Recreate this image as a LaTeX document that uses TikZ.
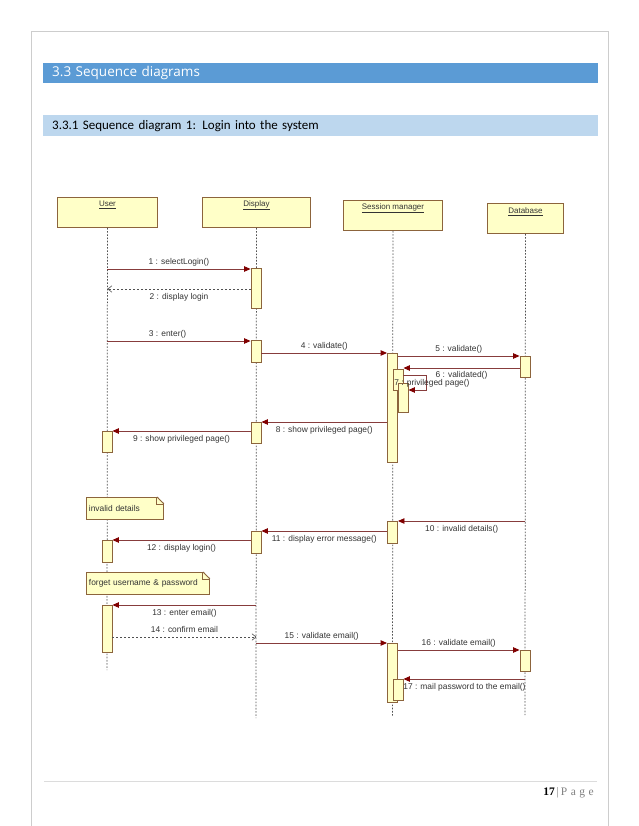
\documentclass[tikz,border=0pt]{standalone}
\usepackage{fontspec}
\setmainfont{Liberation Sans}
\newfontfamily\hdfont{Open Sans}
\newfontfamily\subfont{Carlito}
\newfontfamily\ftfont{Liberation Serif}
\usetikzlibrary{arrows.meta}
\definecolor{boxfill}{RGB}{255,255,200}
\definecolor{boxline}{RGB}{140,100,60}
\definecolor{msgline}{RGB}{135,60,60}
\definecolor{msghead}{RGB}{128,0,0}
\definecolor{lifegray}{RGB}{80,80,80}
\definecolor{hdblue}{RGB}{91,155,213}
\definecolor{subblue}{RGB}{189,215,238}
\definecolor{framegray}{RGB}{205,205,205}
\begin{document}
\begin{tikzpicture}[x=1pt,y=-1pt,
  objbox/.style={draw=boxline, fill=boxfill, line width=0.9pt, inner sep=0pt, anchor=north west},
  objtxt/.style={font=\fontsize{8}{9}\selectfont, text=black!80, inner sep=0pt},
  act/.style={draw=boxline, fill=boxfill, line width=0.9pt, minimum width=10pt, inner sep=0pt},
  lifeline/.style={lifegray, line width=0.75pt, dash pattern=on 1.6pt off 1.6pt},
  msg/.style={msgline, line width=0.9pt, -{Triangle[length=6.5pt,width=5.5pt,color=msghead,fill=msghead]}},
  ret/.style={lifegray, line width=0.7pt, dash pattern=on 2pt off 2pt, -{Straight Barb[length=4pt,width=6.5pt,line width=0.6pt]}},
  lbl/.style={font=\fontsize{8.4}{9.5}\selectfont, text=black!80, inner sep=0pt, text height=6.3pt, text depth=1.9pt},
  la/.style={lbl, midway, anchor=south, yshift=2.2pt},
  lb/.style={lbl, midway, anchor=north, yshift=-3.8pt},
  note/.style={draw=boxline, fill=boxfill, line width=0.9pt, inner ysep=0pt, inner xsep=2.5pt, align=left, anchor=north west, font=\fontsize{8.4}{9.5}\selectfont, text=black!80},
  fold/.style={boxline, line width=0.9pt}
]
\useasboundingbox (0,0) rectangle (638,826);
\fill[white] (0,0) rectangle (638,826);

% page frame
\draw[framegray, line width=1pt] (31,826) -- (31,32) -- (608,32) -- (608,826);

% headings
\node[fill=hdblue, text=white, anchor=north west, minimum height=20pt, text width=537pt, inner xsep=9pt, inner ysep=0pt, align=left, font=\hdfont\fontsize{13.5}{15}\selectfont] (hd) at (43,63) {3.3 Sequence diagrams};
\node[fill=subblue, text=black, anchor=north west, minimum height=21pt, text width=537pt, inner xsep=9pt, inner ysep=0pt, align=left, font=\subfont\fontsize{13}{15}\selectfont] (sub) at (43,115) {3.3.1 Sequence diagram 1: Login into the system};

% footer
\draw[framegray!70, line width=0.7pt] (44,781) -- (597,781);
\node[anchor=base east, inner sep=0pt, font=\ftfont\fontsize{11.5}{13}\selectfont] (pg) at (594,795) {{\bfseries 17}\,{\color{gray}|\,P\hspace{3.5pt}a\hspace{3.5pt}g\hspace{3.5pt}e}};

% objects
\node[objbox, minimum width=100pt, minimum height=30pt] (user) at (57,197) {};
\node[objtxt] (userT) at ([yshift=-8pt]user.north) {\underline{User}};
\node[objbox, minimum width=108pt, minimum height=30pt] (disp) at (202,197) {};
\node[objtxt] (dispT) at ([yshift=-8pt]disp.north) {\underline{Display}};
\node[objbox, minimum width=99pt, minimum height=30pt] (sess) at (343,200) {};
\node[objtxt] (sessT) at ([yshift=-8pt]sess.north) {\underline{Session manager}};
\node[objbox, minimum width=76pt, minimum height=30pt] (db) at (487,203) {};
\node[objtxt] (dbT) at ([yshift=-9pt]db.north) {\underline{Database}};

% lifeline ends
\coordinate (uEnd) at (107,670);
\coordinate (dEnd) at (256,718);
\coordinate (sEnd) at (392.5,717);
\coordinate (bEnd) at (525,715);
\draw[lifeline] (user.south) -- (uEnd);
\draw[lifeline] (disp.south) -- (dEnd);
\draw[lifeline] (sess.south) -- (sEnd);
\draw[lifeline] (db.south) -- (bEnd);

% activations
\node[act, minimum height=40pt] (dA1) at (256,288) {};
\node[act, minimum height=22pt] (dA2) at (256,351) {};
\node[act, minimum height=109pt] (sA1) at (392.5,407.5) {};
\node[act, minimum height=21pt] (bA1) at (525,366.5) {};
\node[act, minimum height=21pt] (sA1b) at (398,379.5) {};
\node[act, minimum height=29pt] (sA1c) at (403,397.5) {};
\node[act, minimum height=21pt] (dA3) at (256,432.5) {};
\node[act, minimum height=21pt] (uA1) at (107,441.5) {};
\node[act, minimum height=22pt] (sA2) at (392.5,532) {};
\node[act, minimum height=22pt] (dA4) at (256,542) {};
\node[act, minimum height=22pt] (uA2) at (107,551) {};
\node[act, minimum height=47pt] (uA3) at (107,628.5) {};
\node[act, minimum height=59pt] (sA3) at (392.5,672.5) {};
\node[act, minimum height=21pt] (bA2) at (525,660.5) {};
\node[act, minimum height=21pt] (sA3b) at (398,689.5) {};

% rows
\coordinate (r1) at (0,269);
\coordinate (r2) at (0,289);
\coordinate (r3) at (0,341);
\coordinate (r4) at (0,353);
\coordinate (r5) at (0,356);
\coordinate (r6) at (0,368);
\coordinate (r7) at (0,375);
\coordinate (r7b) at (0,390);
\coordinate (x7) at (426,0);
\coordinate (r8) at (0,422);
\coordinate (r9) at (0,431);
\coordinate (r10) at (0,521);
\coordinate (r11) at (0,531);
\coordinate (r12) at (0,540);
\coordinate (r13) at (0,605);
\coordinate (r14) at (0,637);
\coordinate (r15) at (0,643);
\coordinate (r16) at (0,650);
\coordinate (r17) at (0,679);

% messages
\draw[msg] (user.south |- r1) -- node[la] {1 : selectLogin()} (dA1.west |- r1);
\draw[ret] (dA1.west |- r2) -- node[lb] {2 : display login} (user.south |- r2);
\draw[msg] (user.south |- r3) -- node[la, pos=0.42] {3 : enter()} (dA2.west |- r3);
\draw[msg] (dA2.east |- r4) -- node[la] {4 : validate()} (sA1.west |- r4);
\draw[msg] (sA1.east |- r5) -- node[la] {5 : validate()} (bA1.west |- r5);
\draw[msg] (bA1.west |- r6) -- node[lb, yshift=1pt] {6 : validated()} (sA1b.east |- r6);
\draw[msg] (sA1b.east |- r7) -- (x7 |- r7) -- (x7 |- r7b) -- (sA1c.east |- r7b);
\node[lbl] (l7) at (432,383) {7 : privileged page()};
\draw[msg] (sA1.west |- r8) -- node[lb] {8 : show privileged page()} (dA3.east |- r8);
\draw[msg] (dA3.west |- r9) -- node[lb] {9 : show privileged page()} (uA1.east |- r9);
\draw[msg] (db.south |- r10) -- node[lb] {10 : invalid details()} (sA2.east |- r10);
\draw[msg] (sA2.west |- r11) -- node[lb] {11 : display error message()} (dA4.east |- r11);
\draw[msg] (dA4.west |- r12) -- node[lb] {12 : display login()} (uA2.east |- r12);
\draw[msg] (disp.south |- r13) -- node[lb] {13 : enter email()} (uA3.east |- r13);
\draw[ret] (uA3.east |- r14) -- node[la] {14 : confirm email} (disp.south |- r14);
\draw[msg] (disp.south |- r15) -- node[la] {15 : validate email()} (sA3.west |- r15);
\draw[msg] (sA3.east |- r16) -- node[la] {16 : validate email()} (bA2.west |- r16);
\draw[msg] (db.south |- r17) -- node[lb] {17 : mail password to the email()} (sA3b.east |- r17);

% notes
\node[note, minimum height=22pt, text width=72pt] (n1) at (86,497) {invalid details};
\fill[white] ([xshift=1pt,yshift=1pt]n1.north east) -- ([xshift=-7pt,yshift=1pt]n1.north east) -- ([xshift=1pt,yshift=-7pt]n1.north east) -- cycle;
\draw[fold] ([xshift=-7pt]n1.north east) -- ([yshift=-7pt]n1.north east);
\draw[fold] ([xshift=-7pt]n1.north east) -- ([xshift=-7pt,yshift=-7pt]n1.north east) -- ([yshift=-7pt]n1.north east);

\node[note, minimum height=22pt, text width=118pt] (n2) at (86,572) {forget username \& password};
\fill[white] ([xshift=1pt,yshift=1pt]n2.north east) -- ([xshift=-7pt,yshift=1pt]n2.north east) -- ([xshift=1pt,yshift=-7pt]n2.north east) -- cycle;
\draw[fold] ([xshift=-7pt]n2.north east) -- ([yshift=-7pt]n2.north east);
\draw[fold] ([xshift=-7pt]n2.north east) -- ([xshift=-7pt,yshift=-7pt]n2.north east) -- ([yshift=-7pt]n2.north east);
\end{tikzpicture}
\end{document}
